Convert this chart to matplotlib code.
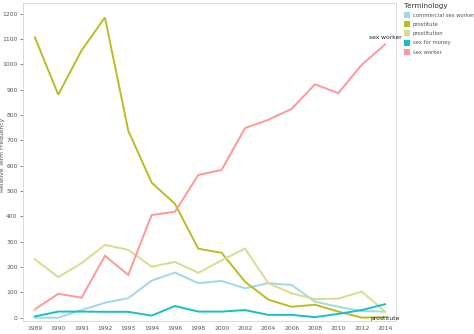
import matplotlib
matplotlib.use("Agg")
import matplotlib.pyplot as plt
from matplotlib.patches import Patch

# ----------------------------------------------------------------------------

years = ["1989", "1990", "1991", "1992", "1993", "1994", "1996", "1998",
         "2000", "2002", "2004", "2006", "2008", "2010", "2012", "2014"]

commercial_sex_worker = [0, 0, 30, 59, 77, 146, 178, 136, 145, 116, 136, 129, 63, 43, 26, 24]
prostitute = [1106, 880, 1055, 1185, 738, 533, 449, 272, 256, 142, 71, 43, 51, 24, 0, 2]
prostitution = [230, 160, 215, 287, 268, 201, 220, 177, 226, 273, 136, 96, 73, 75, 103, 24]
sex_for_money = [5, 24, 24, 23, 23, 8, 46, 24, 24, 30, 11, 11, 2, 15, 30, 53]
sex_worker = [33, 94, 79, 244, 169, 405, 418, 563, 583, 748, 781, 824, 921, 886, 998, 1078]

names = ["commercial sex worker", "prostitute", "prostitution", "sex for money", "sex worker"]
colors = ["#9edae5", "#bcbd22", "#dbdb8d", "#17becf", "#ff9896"]
y_ticks = [0, 100, 200, 300, 400, 500, 600, 700, 800, 900, 1000, 1100, 1200]

# ----------------------------------------------------------------------------

fig = plt.figure(figsize=(4.74, 3.34), dpi=100)
ax = fig.add_axes([23 / 474, 13.3 / 334, 373 / 474, 318 / 334])

series = [commercial_sex_worker, prostitute, prostitution, sex_for_money, sex_worker]
xs = list(range(len(years)))
for vals, c in zip(series, colors):
    ax.plot(xs, vals, color=c, lw=1.4, solid_joinstyle="miter")

ax.set_xlim(-0.51, 15.47)
ax.set_ylim(-12, 1243)
ax.set_xticks(xs, years)
ax.set_yticks(y_ticks)
ax.tick_params(labelsize=4.3, colors="#555555", length=2, width=0.5, pad=2)
ax.tick_params(axis="x", length=0, pad=3.5)
for s in ax.spines.values():
    s.set_color("#d4d4d4")
    s.set_linewidth(0.6)
ax.set_ylabel("Relative Term Frequency", fontsize=4.3, color="#555555")
ax.yaxis.set_label_coords(-0.047, 0.52)

# end labels
ax.annotate("sex worker", (15, sex_worker[-1]), xytext=(0, 3), textcoords="offset points",
            ha="center", va="bottom", fontsize=4.3, color="#222222")
ax.annotate("prostitute", (15, prostitute[-1]), xytext=(0, -1), textcoords="offset points",
            ha="center", va="center", fontsize=4.3, color="#222222")

# legend
handles = [Patch(facecolor=c, edgecolor="none") for c in colors]
leg = fig.legend(handles, names, title="Terminology", loc="upper left",
                 bbox_to_anchor=(401 / 474, 1.0), frameon=False, fontsize=3.8,
                 title_fontsize=5.2, handlelength=1.3, handleheight=1.4,
                 handletextpad=0.45, labelspacing=0.6, borderaxespad=0.1)
leg._legend_box.align = "left"
for t in leg.get_texts():
    t.set_color("#555555")
leg.get_title().set_color("#333333")

fig.savefig("out.png", dpi=100)
